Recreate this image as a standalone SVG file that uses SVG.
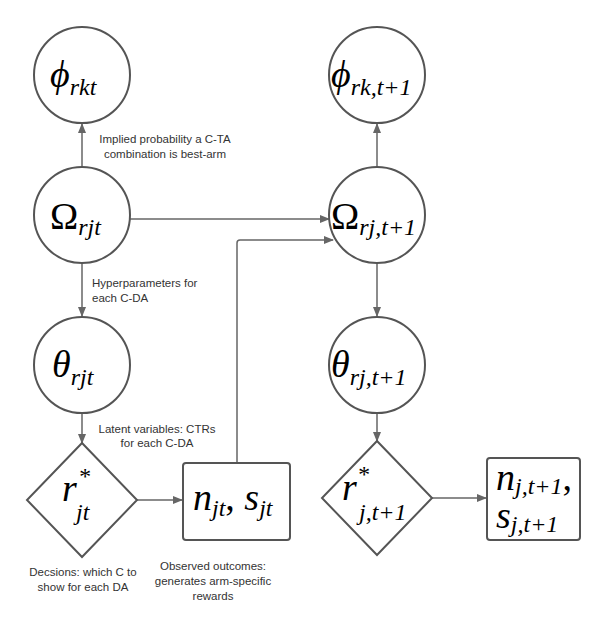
<svg xmlns="http://www.w3.org/2000/svg" width="616" height="633" viewBox="0 0 616 633">
<style>
.n{fill:#fff;stroke:#555;stroke-width:2}
.c{stroke:#666;stroke-width:1.5;fill:none}
.m{font-family:"Liberation Serif",serif;font-style:italic;font-size:38px;fill:#000}
.s{font-size:24px}
.u{font-style:normal}
.l{font-family:"Liberation Sans",sans-serif;font-size:11.5px;fill:#333;text-anchor:middle}
</style>
<defs><marker id="a" markerWidth="10" markerHeight="8" refX="9" refY="4" orient="auto" markerUnits="userSpaceOnUse"><path d="M0,0L10,4L0,8z" fill="#666"/></marker></defs>
<rect width="616" height="633" fill="#fff"/>
<g id="connectors">
<line class="c" x1="82" y1="167" x2="82" y2="124" marker-end="url(#a)"/>
<line class="c" x1="82" y1="263" x2="82" y2="316" marker-end="url(#a)"/>
<line class="c" x1="82" y1="413" x2="82" y2="443" marker-end="url(#a)"/>
<line class="c" x1="137" y1="500" x2="182" y2="500" marker-end="url(#a)"/>
<line class="c" x1="130" y1="219" x2="329" y2="219" marker-end="url(#a)"/>
<path class="c" d="M237,463V243Q237,240 240,240H333" marker-end="url(#a)"/>
<line class="c" x1="377" y1="167" x2="377" y2="124" marker-end="url(#a)"/>
<line class="c" x1="377" y1="263" x2="377" y2="316" marker-end="url(#a)"/>
<line class="c" x1="377" y1="413" x2="377" y2="441" marker-end="url(#a)"/>
<line class="c" x1="432" y1="498" x2="486" y2="498" marker-end="url(#a)"/>
</g>
<g id="phi1"><circle class="n" cx="82" cy="75" r="48"/><text class="m" x="50" y="87">ϕ<tspan class="s" dy="8">rkt</tspan></text></g>
<g id="omega1"><circle class="n" cx="82" cy="215" r="48"/><text class="m u" x="50" y="229">Ω<tspan class="s" style="font-style:italic" dy="6">rjt</tspan></text></g>
<g id="theta1"><circle class="n" cx="82" cy="365" r="48"/><text class="m" x="52" y="377">θ<tspan class="s" dy="8">rjt</tspan></text></g>
<g id="r1"><path class="n" d="M82,443L137,500L82,557L27,500z"/><text class="m" x="62" y="501">r</text><text class="m s" x="78" y="484">*</text><text class="m s" x="76" y="520">jt</text></g>
<g id="ns1"><rect class="n" x="183" y="463" width="107" height="77" rx="3"/><text class="m" x="193" y="510">n<tspan class="s" dy="6">jt</tspan><tspan class="u" dy="-6">, </tspan>s<tspan class="s" dy="6">jt</tspan></text></g>
<g id="phi2"><circle class="n" cx="377" cy="75" r="48"/><text class="m" x="331" y="87">ϕ<tspan class="s" dy="8">rk,t+1</tspan></text></g>
<g id="omega2"><circle class="n" cx="377" cy="215" r="48"/><text class="m u" x="331" y="229">Ω<tspan class="s" style="font-style:italic" dy="6">rj,t+1</tspan></text></g>
<g id="theta2"><circle class="n" cx="377" cy="365" r="48"/><text class="m" x="331" y="377">θ<tspan class="s" dy="8">rj,t+1</tspan></text></g>
<g id="r2"><path class="n" d="M377,441L432,498L377,555L322,498z"/><text class="m" x="342" y="500">r</text><text class="m s" x="357" y="482">*</text><text class="m s" x="359" y="520">j,t+1</text></g>
<g id="ns2"><rect class="n" x="487" y="458" width="93" height="82" rx="3"/><text class="m" x="496" y="490">n<tspan class="s" dy="4">j,t+1</tspan><tspan class="u" dy="-4">,</tspan></text><text class="m" x="496" y="528">s<tspan class="s" dy="4">j,t+1</tspan></text></g>
<g id="labels">
<text class="l" x="165" y="143">Implied probability a C-TA</text>
<text class="l" x="165" y="158">combination is best-arm</text>
<text class="l" x="92" y="287" style="text-anchor:start">Hyperparameters for</text>
<text class="l" x="92" y="302" style="text-anchor:start">each C-DA</text>
<text class="l" x="157" y="433">Latent variables: CTRs</text>
<text class="l" x="157" y="447">for each C-DA</text>
<text class="l" x="83" y="576">Decsions: which C to</text>
<text class="l" x="83" y="591">show for each DA</text>
<text class="l" x="213" y="570">Observed outcomes:</text>
<text class="l" x="213" y="585">generates arm-specific</text>
<text class="l" x="213" y="600">rewards</text>
</g>
</svg>
